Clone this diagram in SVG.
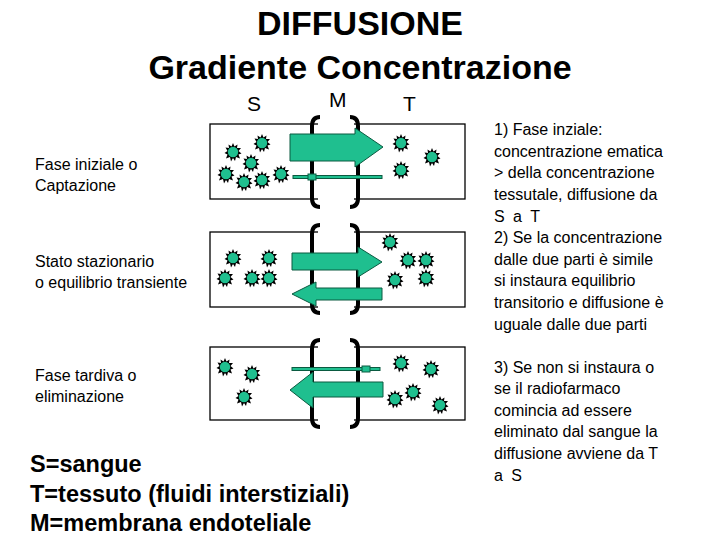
<svg xmlns="http://www.w3.org/2000/svg" xmlns:xlink="http://www.w3.org/1999/xlink" width="720" height="540" viewBox="0 0 720 540">
<style>
text{font-family:"Liberation Sans",Arial,sans-serif;fill:#000}
.t{font-size:34px;text-anchor:middle;font-weight:bold}
.h{font-size:21px}
.l{font-size:16px}
.r{font-size:16px}
.b{font-size:23.5px;font-weight:bold}
.box{fill:#fff;stroke:#000;stroke-width:1.3}
.br{fill:none;stroke:#000;stroke-width:4}
.ar{fill:#1fbf8f;stroke:#0a5a40;stroke-width:1}
</style>
<defs>
<g id="p"><polygon points="0,-9 1.5,-5.5 4.5,-7.5 4,-4 8,-4 5.5,-1 8.5,1.5 5.5,2.5 7,6.5 3,5 2,9 0,6 -2,9.5 -3,5 -7,6.5 -5.5,2.5 -8.5,1 -5.5,-1 -7.5,-4.5 -4,-4 -4.5,-7.5 -1.5,-5.5" fill="#000"/><circle r="5.2" fill="#1fbf8f"/></g>
</defs>
<text class="t" x="360" y="35">DIFFUSIONE</text>
<text class="t" x="360" y="79">Gradiente Concentrazione</text>
<text class="h" x="247" y="111">S</text>
<text class="h" x="329" y="107">M</text>
<text class="h" x="403" y="111">T</text>
<g id="panel1">
<rect class="box" x="210" y="124" width="255" height="75"/>
<rect x="318" y="120" width="36" height="84" fill="#fff"/>
<path class="br" d="M320,117 Q312,117 312,126 V198 Q312,207 320,207 M350,117 Q358,117 358,126 V198 Q358,207 350,207"/>
<polygon class="ar" points="290,134 355,134 355,128 383,147 355,167 355,161 290,161"/>
<rect class="ar" x="293" y="175.5" width="89" height="3"/>
<rect class="ar" x="308" y="174" width="8" height="6"/>
<use xlink:href="#p" x="233" y="152"/><use xlink:href="#p" x="262" y="143"/><use xlink:href="#p" x="251" y="163"/><use xlink:href="#p" x="226" y="174"/><use xlink:href="#p" x="244" y="182"/><use xlink:href="#p" x="262" y="180"/><use xlink:href="#p" x="281" y="174"/>
<use xlink:href="#p" x="401" y="143"/><use xlink:href="#p" x="401" y="170"/><use xlink:href="#p" x="432" y="157"/>
</g>
<g id="panel2">
<rect class="box" x="210" y="232" width="255" height="75"/>
<rect x="318" y="228" width="36" height="82" fill="#fff"/>
<path class="br" d="M320,225 Q312,225 312,234 V304 Q312,313 320,313 M350,225 Q358,225 358,234 V304 Q358,313 350,313"/>
<polygon class="ar" points="292,253 358,253 358,247 382,262 358,277 358,270 292,270"/>
<polygon class="ar" points="382,288 316,288 316,282 292,294 316,306 316,300 382,300"/>
<use xlink:href="#p" x="233" y="258"/><use xlink:href="#p" x="269" y="258"/><use xlink:href="#p" x="225" y="278"/><use xlink:href="#p" x="252" y="278"/><use xlink:href="#p" x="269" y="278"/>
<use xlink:href="#p" x="390" y="242"/><use xlink:href="#p" x="408" y="260"/><use xlink:href="#p" x="426" y="260"/><use xlink:href="#p" x="395" y="280"/><use xlink:href="#p" x="426" y="278"/>
</g>
<g id="panel3">
<rect class="box" x="210" y="347" width="255" height="73"/>
<rect x="318" y="343" width="36" height="81" fill="#fff"/>
<path class="br" d="M320,340 Q312,340 312,349 V418 Q312,427 320,427 M350,340 Q358,340 358,349 V418 Q358,427 350,427"/>
<rect class="ar" x="292" y="367.5" width="88" height="3"/>
<rect class="ar" x="362" y="366" width="8" height="6"/>
<polygon class="ar" points="383,382 313,382 313,372 290,390 313,408 313,397 383,397"/>
<use xlink:href="#p" x="225" y="367"/><use xlink:href="#p" x="252" y="374"/><use xlink:href="#p" x="244" y="397"/>
<use xlink:href="#p" x="401" y="363"/><use xlink:href="#p" x="431" y="369"/><use xlink:href="#p" x="395" y="399"/><use xlink:href="#p" x="413" y="392"/><use xlink:href="#p" x="440" y="405"/>
</g>
<text class="l" x="35" y="170">Fase iniziale o</text>
<text class="l" x="35" y="191">Captazione</text>
<text class="l" x="35" y="267">Stato stazionario</text>
<text class="l" x="35" y="288">o equilibrio transiente</text>
<text class="l" x="35" y="381">Fase tardiva o</text>
<text class="l" x="35" y="402">eliminazione</text>
<g class="r">
<text class="r" x="494" y="135">1) Fase inziale:</text>
<text class="r" x="494" y="157">concentrazione ematica</text>
<text class="r" x="494" y="178">&gt; della concentrazione</text>
<text class="r" x="494" y="200">tessutale, diffusione da</text>
<text class="r" x="494" y="222" word-spacing="4">S a T</text>
<text class="r" x="494" y="243">2) Se la concentrazione</text>
<text class="r" x="494" y="265">dalle due parti è simile</text>
<text class="r" x="494" y="286">si instaura equilibrio</text>
<text class="r" x="494" y="308">transitorio e diffusione è</text>
<text class="r" x="494" y="330">uguale dalle due parti</text>
<text class="r" x="494" y="373">3) Se non si instaura o</text>
<text class="r" x="494" y="394">se il radiofarmaco</text>
<text class="r" x="494" y="416">comincia ad essere</text>
<text class="r" x="494" y="437">eliminato dal sangue la</text>
<text class="r" x="494" y="459">diffusione avviene da T</text>
<text class="r" x="494" y="481" word-spacing="4">a S</text>
</g>
<text class="b" x="30" y="472">S=sangue</text>
<text class="b" x="30" y="502">T=tessuto (fluidi interstiziali)</text>
<text class="b" x="30" y="531">M=membrana endoteliale</text>
</svg>
